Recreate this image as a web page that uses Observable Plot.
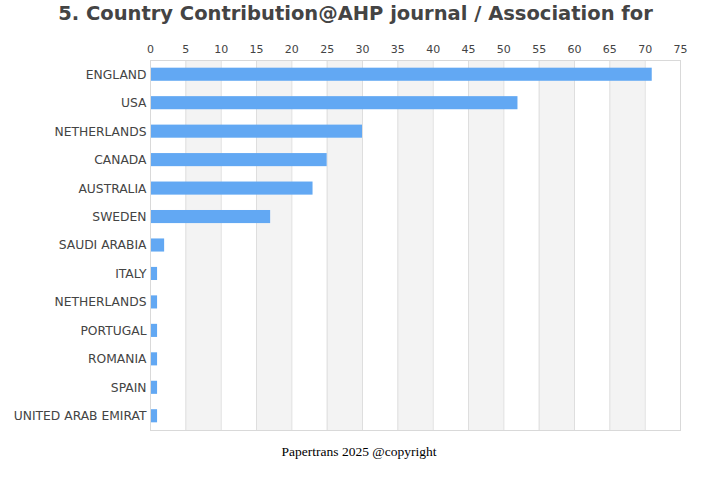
<!DOCTYPE html>
<html><head><meta charset="utf-8">
<script src="https://cdn.jsdelivr.net/npm/d3@7"></script>
<script src="https://cdn.jsdelivr.net/npm/@observablehq/plot@0.6"></script>
<style>
body{margin:0;background:#fff;width:720px;height:480px;position:relative;overflow:hidden;font-family:"DejaVu Sans",sans-serif;}
#title{position:absolute;left:0;top:0;width:711px;text-align:center;font:bold 19.5px "DejaVu Sans",sans-serif;color:#444;line-height:27px;}
#chart{position:absolute;left:0;top:30px;}
#caption{position:absolute;left:0;top:444px;width:718px;text-align:center;font:13.5px "Liberation Serif","Times New Roman",serif;color:#000;}
</style></head>
<body>
<div id="title">5. Country Contribution@AHP journal / Association for</div>
<div id="chart"></div>
<div id="caption">Papertrans 2025 @copyright</div>
<script>
const countries = ["ENGLAND","USA","NETHERLANDS ","CANADA","AUSTRALIA","SWEDEN","SAUDI ARABIA","ITALY","NETHERLANDS","PORTUGAL","ROMANIA","SPAIN","UNITED ARAB EMIRAT"];
const counts = [71,52,30,25,23,17,2,1,1,1,1,1,1];
const xTicks = [0,5,10,15,20,25,30,35,40,45,50,55,60,65,70,75];
const bandStarts = [5,15,25,35,45,55,65];

const data = countries.map((c,i)=>({country:c,count:counts[i]}));
const bands = bandStarts.map(s=>({x1:s,x2:s+5}));

const chart = Plot.plot({
  width:720, height:420,
  marginLeft:150, marginRight:40, marginTop:30, marginBottom:20,
  style:{fontFamily:"DejaVu Sans, sans-serif", color:"#444", background:"transparent"},
  x:{domain:[0,75], label:null},
  y:{domain:countries, paddingInner:0.54, paddingOuter:0.27, round:false, label:null},
  marks:[
    Plot.rect(bands,{x1:"x1",x2:"x2",fill:"#f3f3f3"}),
    Plot.ruleX(xTicks,{stroke:"#dedede"}),
    Plot.barX(data,{x:"count",y:"country",fill:"#62a8f3"}),
    Plot.frame({stroke:"#d9d9d9"}),
    Plot.axisX({anchor:"top",ticks:xTicks,tickSize:0,tickPadding:8,fontSize:11,label:null,fill:"#444"}),
    Plot.axisY({tickSize:0,tickPadding:4,fontSize:12.3,label:null,fill:"#444",tickFormat:d=>d.trim()})
  ]
});
document.getElementById("chart").appendChild(chart);
</script>
</body></html>
